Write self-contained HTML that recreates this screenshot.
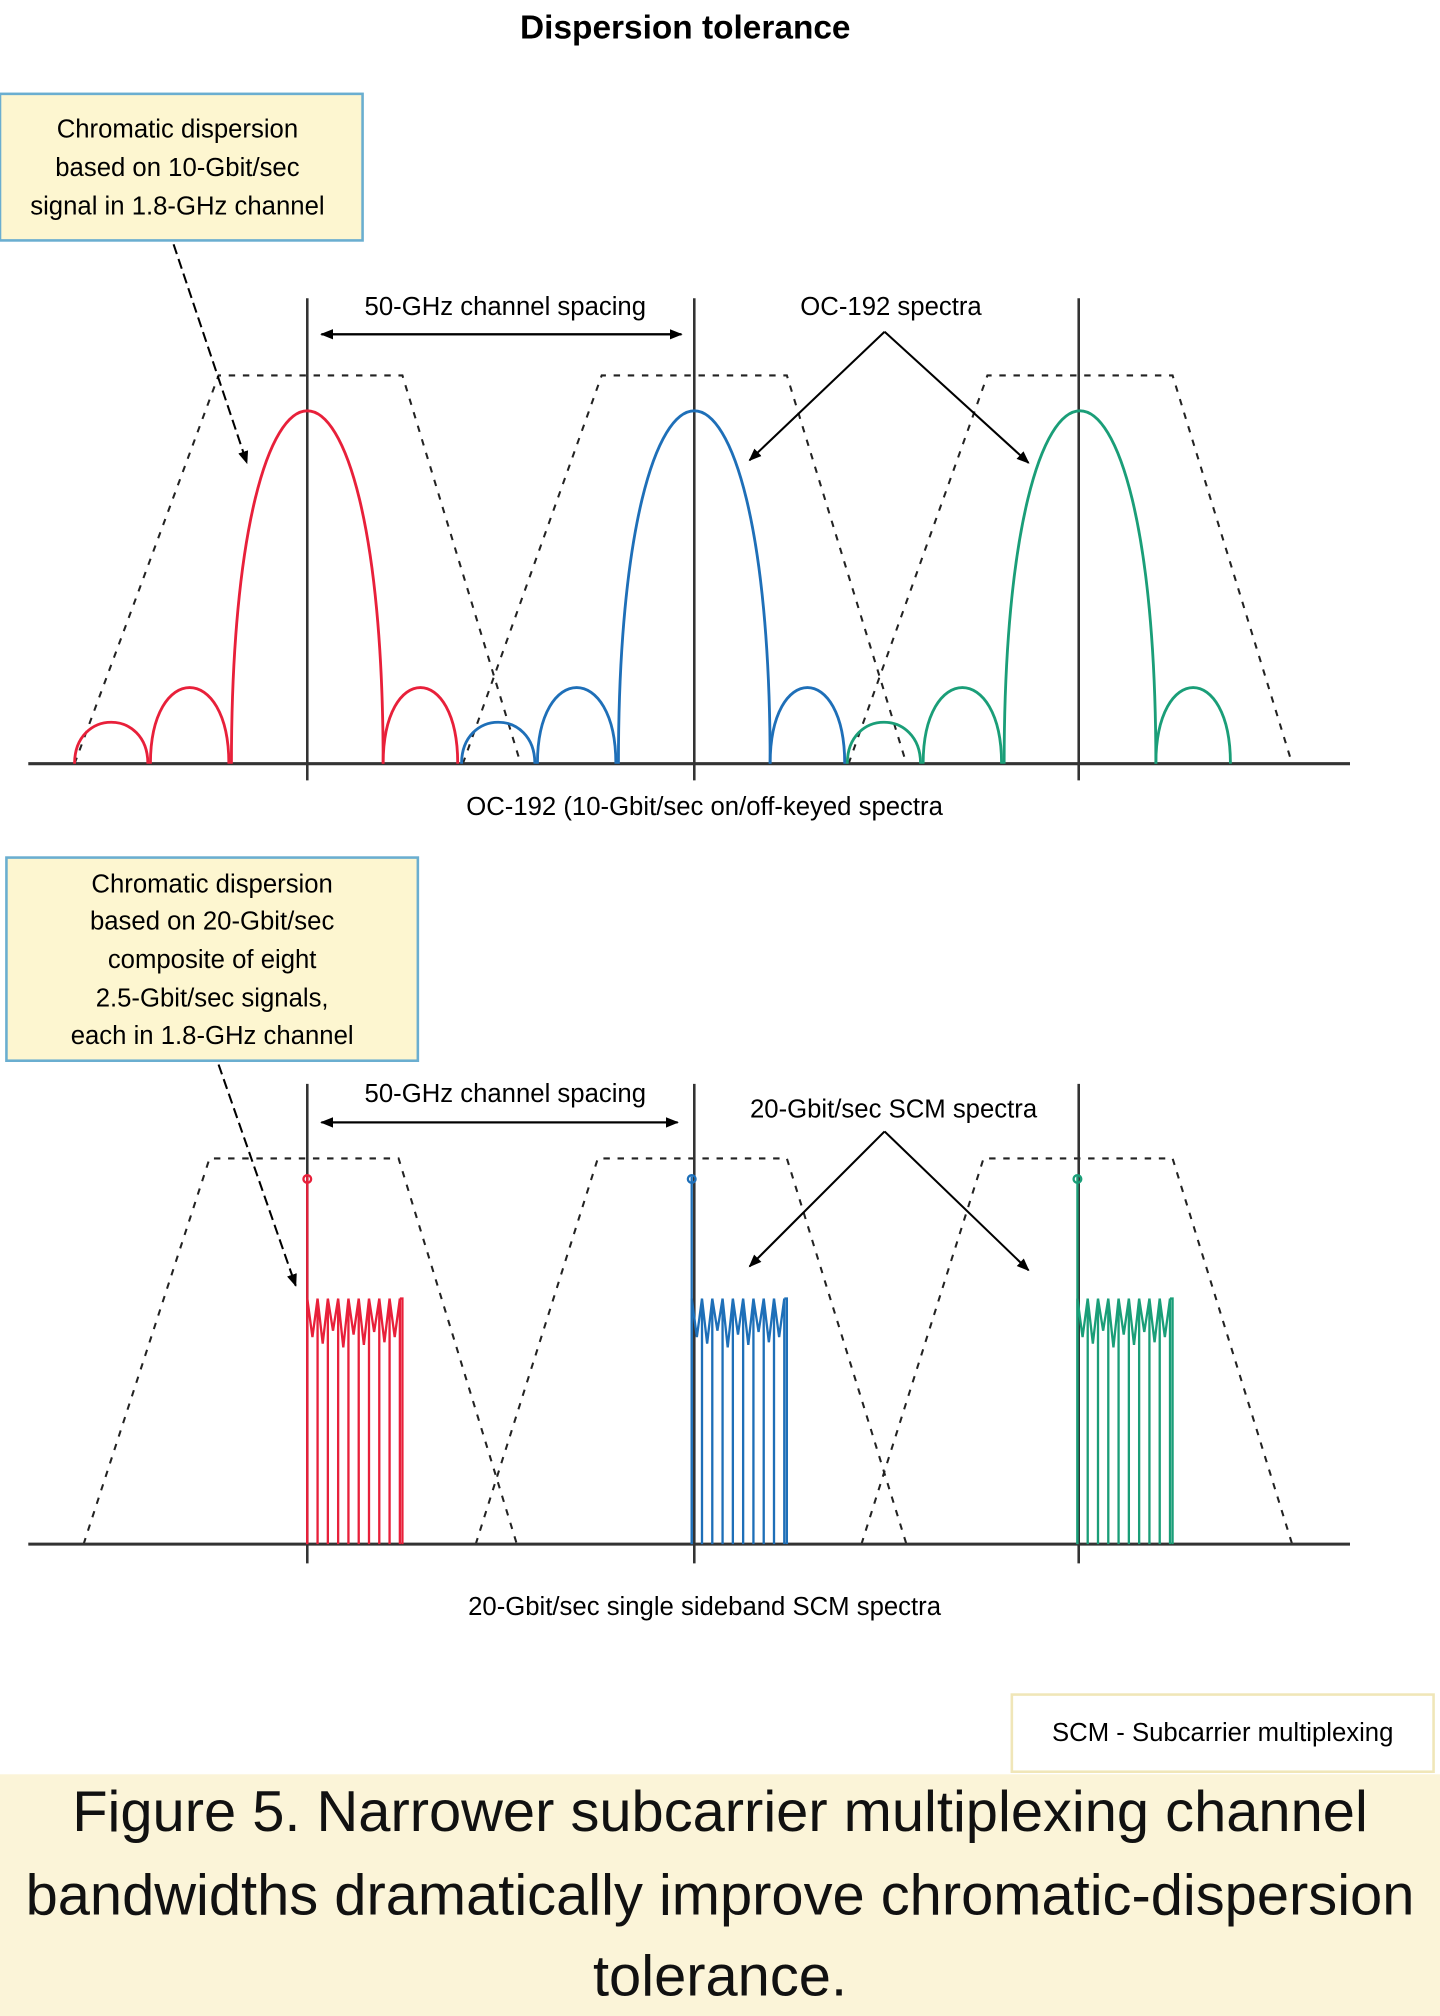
<!DOCTYPE html>
<html><head><meta charset="utf-8"><style>
html,body{margin:0;padding:0;background:#fff}
svg{display:block}
text{font-family:"Liberation Sans",sans-serif}
</style></head><body>
<svg width="1440" height="2016" viewBox="0 0 1120 1568" xmlns="http://www.w3.org/2000/svg">
<defs>
<marker id="ah" markerWidth="10" markerHeight="10" refX="9" refY="5" orient="auto" markerUnits="userSpaceOnUse">
<path d="M0,1 L10,5 L0,9 z" fill="#000"/></marker>
<g id="lobes" fill="none" stroke-width="2.2">
<path d="M58,594 C58,551 115,551 115,594"/>
<path d="M117,594 C117,515 178,515 178,594"/>
<path d="M180,594 C180,228 298,228 298,594"/>
<path d="M298,594 C298,515 356,515 356,594"/>
</g>
<g id="comb" fill="none" stroke-width="1.8">
<path d="M0,1201 V915"/>
<circle cx="0" cy="917" r="3"/>
<path d="M0,1201 V1010 L4,1040 L8,1010 V1201 M8,1010 L12,1045 L16,1010 V1201 M16,1010 L20,1035 L24,1010 V1201 M24,1010 L28,1048 L32,1010 V1201 M32,1010 L36,1038 L40,1010 V1201 M40,1010 L44,1046 L48,1010 V1201 M48,1010 L52,1036 L56,1010 V1201 M56,1010 L60,1044 L64,1010 V1201 M64,1010 L68,1040 L72,1010 V1201 M72,1010 L74,1010 V1201"/>
</g>
</defs>
<text x="533" y="30" font-size="26" font-weight="bold" text-anchor="middle">Dispersion tolerance</text>

<rect x="0" y="73" width="282" height="114" fill="#fdf6d0" stroke="#6aaed0" stroke-width="2"/>
<g font-size="20" text-anchor="middle"><text x="138" y="107">Chromatic dispersion</text><text x="138" y="137">based on 10-Gbit/sec</text><text x="138" y="167">signal in 1.8-GHz channel</text></g>

<g fill="none" stroke="#222" stroke-width="1.6" stroke-dasharray="5,6">
<path d="M58,594 L170,292 L313,292 L405,594"/>
<path d="M360,594 L468,292 L612,292 L705,594"/>
<path d="M660,594 L768,292 L912,292 L1005,594"/>
</g>
<g stroke="#333" stroke-width="2"><path d="M239,232V607M540,232V607M839,232V607"/><path d="M22,594H1050" stroke-width="2.4"/></g>
<use href="#lobes" stroke="#e8203a"/>
<use href="#lobes" stroke="#1e6fb8" transform="translate(301,0)"/>
<use href="#lobes" stroke="#1a9e78" transform="translate(601,0)"/>
<g stroke="#000" stroke-width="1.6" fill="none">
<path d="M250,260H530" marker-end="url(#ah)"/><path d="M530,260H250" marker-end="url(#ah)"/>
<path d="M688,258L583,358" marker-end="url(#ah)"/><path d="M688,258L800,360" marker-end="url(#ah)"/>
<path d="M135,190L192,360" stroke-dasharray="8,4" marker-end="url(#ah)"/>
</g>
<g font-size="20" text-anchor="middle"><text x="393" y="245">50-GHz channel spacing</text><text x="693" y="245">OC-192 spectra</text>
<text x="548" y="634">OC-192 (10-Gbit/sec on/off-keyed spectra</text></g>

<rect x="5" y="667" width="320" height="158" fill="#fdf6d0" stroke="#6aaed0" stroke-width="2"/>
<g font-size="20" text-anchor="middle"><text x="165" y="694">Chromatic dispersion</text><text x="165" y="723">based on 20-Gbit/sec</text><text x="165" y="753">composite of eight</text><text x="165" y="783">2.5-Gbit/sec signals,</text><text x="165" y="812">each in 1.8-GHz channel</text></g>

<g fill="none" stroke="#222" stroke-width="1.6" stroke-dasharray="5,6">
<path d="M65,1201 L163,901 L310,901 L402,1201"/>
<path d="M370,1201 L465,901 L612,901 L705,1201"/>
<path d="M670,1201 L765,901 L912,901 L1005,1201"/>
</g>
<g stroke="#333" stroke-width="2"><path d="M239,843V1216M540,843V1216M839,843V1216"/><path d="M22,1201H1050" stroke-width="2.4"/></g>
<use href="#comb" stroke="#e8203a" fill="#e8203a" transform="translate(239,0)"/>
<use href="#comb" stroke="#1e6fb8" fill="#1e6fb8" transform="translate(538,0)"/>
<use href="#comb" stroke="#1a9e78" fill="#1a9e78" transform="translate(838,0)"/>
<g stroke="#000" stroke-width="1.6" fill="none">
<path d="M250,873H527" marker-end="url(#ah)"/><path d="M527,873H250" marker-end="url(#ah)"/>
<path d="M688,880L583,985" marker-end="url(#ah)"/><path d="M688,880L800,988" marker-end="url(#ah)"/>
<path d="M170,828L230,1000" stroke-dasharray="8,4" marker-end="url(#ah)"/>
</g>
<g font-size="20" text-anchor="middle"><text x="393" y="857">50-GHz channel spacing</text><text x="695" y="869">20-Gbit/sec SCM spectra</text>
<text x="548" y="1256">20-Gbit/sec single sideband SCM spectra</text></g>

<rect x="787" y="1318" width="328" height="60" fill="#fff" stroke="#f0e6b8" stroke-width="2"/>
<text x="951" y="1354" font-size="20" text-anchor="middle">SCM - Subcarrier multiplexing</text>

<rect x="0" y="1380" width="1120" height="188" fill="#fbf4d8"/>
<g font-size="45" text-anchor="middle" fill="#111"><text x="560" y="1424">Figure 5. Narrower subcarrier multiplexing channel</text><text x="560" y="1489">bandwidths dramatically improve chromatic-dispersion</text><text x="560" y="1552">tolerance.</text></g>
</svg>
</body></html>
